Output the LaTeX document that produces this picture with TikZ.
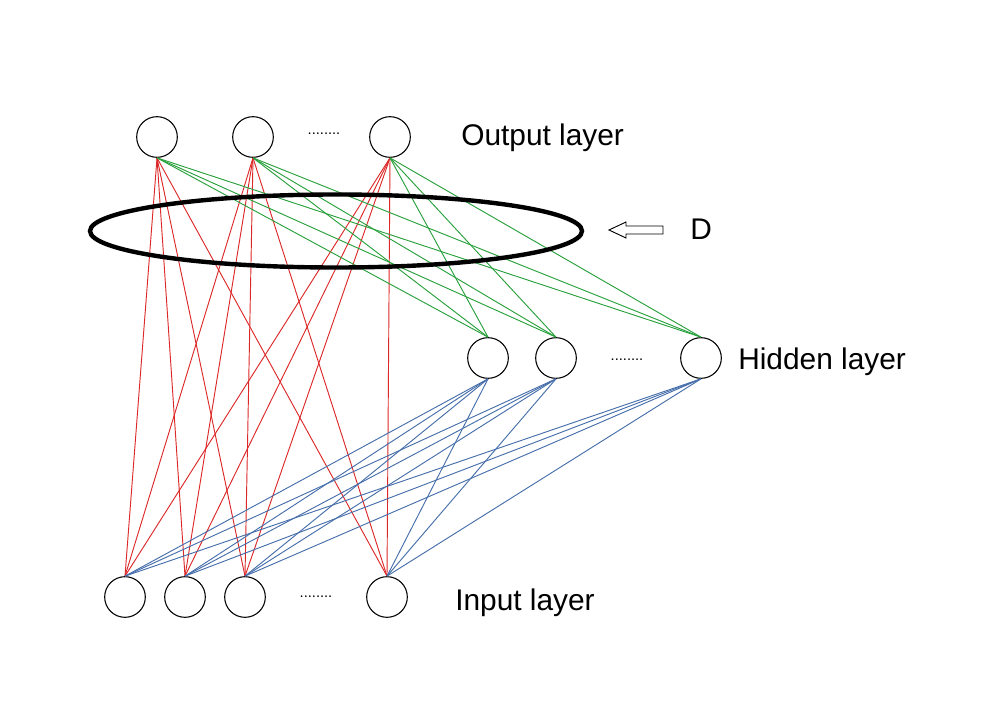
\documentclass[tikz,border=0pt]{standalone}
\usepackage{fontspec}
\setmainfont{Liberation Sans}
\usetikzlibrary{shapes,arrows,positioning,calc}

\definecolor{outred}{RGB}{220,40,40}
\definecolor{hidgreen}{RGB}{40,160,60}
\definecolor{inblue}{RGB}{70,110,170}

\begin{document}
\begin{tikzpicture}[x=0.75pt,y=-0.75pt,
  neuron/.style={draw,circle,minimum size=30.5pt,inner sep=0pt,line width=0.8pt},
  layerlabel/.style={anchor=base west,inner sep=0pt,font=\fontsize{22.4}{26}\selectfont},
  dotsmark/.style={inner sep=0pt,font=\fontsize{11}{12}\selectfont},
  redline/.style={outred,line width=0.7pt},
  greenline/.style={hidgreen,line width=0.7pt},
  blueline/.style={inblue,line width=0.7pt}]
  \useasboundingbox (0,0) rectangle (992,709);

  % output layer
  \node [neuron] (o1) at (157,137) {};
  \node [neuron] (o2) at (253,137) {};
  \node [neuron] (o3) at (390,137) {};
  \node [dotsmark] (odots) at (324,134) {........};
  \node [layerlabel] (olabel) at (461,146) {Output layer};

  % hidden layer
  \node [neuron] (h1) at (488,358) {};
  \node [neuron] (h2) at (556,358) {};
  \node [neuron] (h3) at (701,358) {};
  \node [dotsmark] (hdots) at (627,360) {........};
  \node [layerlabel] (hlabel) at (738,369) {Hidden layer};

  % input layer
  \node [neuron] (i1) at (125,597) {};
  \node [neuron] (i2) at (185,597) {};
  \node [neuron] (i3) at (245,597) {};
  \node [neuron] (i4) at (387,597) {};
  \node [dotsmark] (idots) at (316,597) {........};
  \node [layerlabel] (ilabel) at (455,610) {Input layer};

  % connections
  \foreach \o in {o1,o2,o3}
    \foreach \i in {i1,i2,i3,i4}
      \draw [redline] (\o.south) -- (\i.north);
  \foreach \o in {o1,o2,o3}
    \foreach \h in {h1,h2,h3}
      \draw [greenline] (\o.south) -- (\h.north);
  \foreach \h in {h1,h2,h3}
    \foreach \i in {i1,i2,i3,i4}
      \draw [blueline] (\h.south) -- (\i.north);

  % D
  \node [draw,ellipse,line width=3.3pt,minimum width=369pt,minimum height=54.75pt,inner sep=0pt] (dset) at (336,231) {};
  \draw [line width=0.7pt,fill=white] (663,226) -- (626,226) -- (626,222) -- (609,230)
    -- (626,238) -- (626,234) -- (663,234) -- cycle;
  \node [layerlabel] (dlabel) at (690,240) {D};
\end{tikzpicture}
\end{document}
